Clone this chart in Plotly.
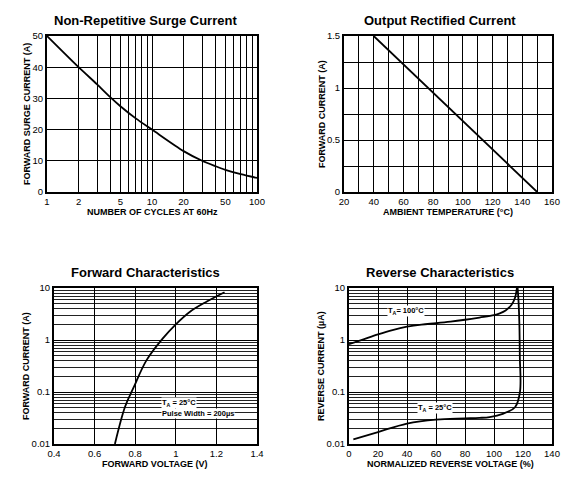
import plotly.graph_objects as go
from plotly.subplots import make_subplots

# Non-Repetitive Surge Current
surge_cycles = [1, 2, 3, 4, 5, 7, 10, 20, 30, 40, 50, 70, 100]
surge_current = [50, 40, 34.5, 30.4, 27.5, 23.6, 20, 13.1, 10, 8.3, 7.1, 5.7, 4.5]

# Output Rectified Current
ambient_temp = [40, 150]
rectified_current = [1.5, 0]

# Forward Characteristics
fwd_voltage = [0.70, 0.75, 0.79, 0.856, 0.934, 1.0, 1.07, 1.153, 1.24]
fwd_current = [0.01, 0.052, 0.117, 0.41, 1.05, 2.0, 3.5, 5.5, 8.3]

# Reverse Characteristics
rev_v_100 = [0, 10, 20, 30, 40, 50, 60, 70, 80, 90, 100, 104, 108, 112, 114.5, 115.8]
rev_i_100 = [0.83, 1.03, 1.28, 1.55, 1.8, 1.98, 2.1, 2.25, 2.45, 2.7, 3.0, 3.25, 3.7, 4.7, 6.5, 10]
rev_v_25 = [3, 20, 40, 60, 80, 90, 97, 106, 114.5, 117.9, 117.8, 117.5, 117, 116.3]
rev_i_25 = [0.0123, 0.017, 0.0247, 0.0295, 0.031, 0.0318, 0.033, 0.038, 0.051, 0.1, 0.5, 2, 5, 10]

FONT = "Liberation Sans"
log_minor = [m * 10 ** e for e in (-2, -1, 0) for m in range(2, 10)]

# page puts the plot 8px in from the corner, so shift everything back
OFF = 8


def fx(px):
    return (px - OFF) / 585


def fy(py):
    return 1 - (py - OFF) / 490


fig = make_subplots(rows=2, cols=2)

line = dict(color="black", width=1.8)
fig.add_trace(go.Scatter(x=surge_cycles, y=surge_current, mode="lines",
                         line=dict(line, shape="spline", smoothing=0.8)), row=1, col=1)
fig.add_trace(go.Scatter(x=ambient_temp, y=rectified_current, mode="lines",
                         line=line), row=1, col=2)
fig.add_trace(go.Scatter(x=fwd_voltage, y=fwd_current, mode="lines",
                         line=dict(line, shape="spline")), row=2, col=1)
fig.add_trace(go.Scatter(x=rev_v_100, y=rev_i_100, mode="lines",
                         line=dict(line, shape="spline")), row=2, col=2)
fig.add_trace(go.Scatter(x=rev_v_25, y=rev_i_25, mode="lines",
                         line=dict(line, shape="spline")), row=2, col=2)

axis_style = dict(showline=True, mirror=True, linecolor="black", linewidth=2,
                  showgrid=True, gridcolor="black", gridwidth=1.3, zeroline=False,
                  automargin=False, ticks="",
                  tickfont=dict(family=FONT, size=9.5, color="black"))

fig.update_xaxes(axis_style)
fig.update_yaxes(axis_style)

top_row = [fy(192), fy(36)]
bottom_row = [fy(444), fy(288)]

fig.update_xaxes(type="log", range=[0, 2], domain=[fx(47), fx(257)],
                 tickvals=[1, 2, 5, 10, 20, 50, 100],
                 minor=dict(tickvals=[3, 4, 6, 7, 8, 9, 30, 40, 60, 70, 80, 90],
                            showgrid=True, gridcolor="black", gridwidth=1.3),
                 row=1, col=1)
fig.update_yaxes(range=[0, 50], dtick=10, domain=top_row, row=1, col=1)

fig.update_xaxes(range=[20, 160], dtick=20, domain=[fx(344), fx(552)],
                 minor=dict(dtick=10, showgrid=True, gridcolor="black", gridwidth=1.3),
                 row=1, col=2)
fig.update_yaxes(range=[0, 1.5], tickvals=[0, 0.5, 1, 1.5], ticktext=["0", "0.5", "1", "1.5"],
                 domain=top_row,
                 minor=dict(tickvals=[0.25, 0.75, 1.25], showgrid=True, gridcolor="black", gridwidth=1.3),
                 row=1, col=2)

log_y = dict(type="log", range=[-2, 1], tickvals=[0.01, 0.1, 1, 10],
             ticktext=["0.01", "0.1", "1", "10"],
             minor=dict(tickvals=log_minor, showgrid=True, gridcolor="#222", gridwidth=1),
             domain=bottom_row)

fig.update_xaxes(range=[0.4, 1.4], domain=[fx(54), fx(257)],
                 tickvals=[0.4, 0.6, 0.8, 1.0, 1.2, 1.4], ticktext=["0.4", "0.6", "0.8", "1", "1.2", "1.4"],
                 row=2, col=1)
fig.update_yaxes(log_y, row=2, col=1)

fig.update_xaxes(range=[0, 140], dtick=20, domain=[fx(349), fx(552)], row=2, col=2)
fig.update_yaxes(log_y, row=2, col=2)

bold = dict(family=FONT, color="black", weight="bold")
anns = []

# panel titles
for x, y, t in [(145, 21, "Non-Repetitive Surge Current"), (440, 21, "Output Rectified Current"),
                (145, 272, "Forward Characteristics"), (440, 272, "Reverse Characteristics")]:
    anns.append(dict(x=fx(x), y=fy(y), text=t, font=dict(bold, size=13)))

# axis titles
for x, y, t in [(152, 212, "NUMBER OF CYCLES AT 60Hz"), (448, 212, "AMBIENT TEMPERATURE (°C)"),
                (155, 464, "FORWARD VOLTAGE (V)"), (450, 464, "NORMALIZED REVERSE VOLTAGE (%)")]:
    anns.append(dict(x=fx(x), y=fy(y), text=t, font=dict(bold, size=9)))
for x, y, t in [(27, 114, "FORWARD SURGE CURRENT (A)"), (322, 114, "FORWARD CURRENT (A)"),
                (26, 366, "FORWARD CURRENT (A)"), (321, 366, "REVERSE CURRENT (µA)")]:
    anns.append(dict(x=fx(x), y=fy(y), text=t, textangle=-90, font=dict(bold, size=9)))

for a in anns:
    a.update(xref="paper", yref="paper", showarrow=False, xanchor="center", yanchor="middle")

# curve labels
label_font = dict(bold, size=7.5)
anns += [
    dict(x=0.925, y=-1.22, xref="x3", yref="y3", text="T<sub>A</sub> = 25°C", xanchor="left",
         showarrow=False, bgcolor="white", font=label_font, borderpad=0),
    dict(x=0.925, y=-1.41, xref="x3", yref="y3", text="Pulse Width = 200µs", xanchor="left",
         showarrow=False, bgcolor="white", font=label_font, borderpad=0),
    dict(x=26, y=0.55, xref="x4", yref="y4", text="T<sub>A</sub>= 100°C", xanchor="left",
         showarrow=False, bgcolor="white", font=label_font, borderpad=0),
    dict(x=47, y=-1.3, xref="x4", yref="y4", text="T<sub>A</sub> = 25°C", xanchor="left",
         showarrow=False, bgcolor="white", font=label_font, borderpad=0),
]

fig.update_layout(width=585, height=490, margin=dict(l=0, r=0, t=0, b=0, autoexpand=False),
                  plot_bgcolor="white", paper_bgcolor="white", showlegend=False,
                  annotations=anns, font=dict(family=FONT, color="black"))

fig.write_html("out.html")
